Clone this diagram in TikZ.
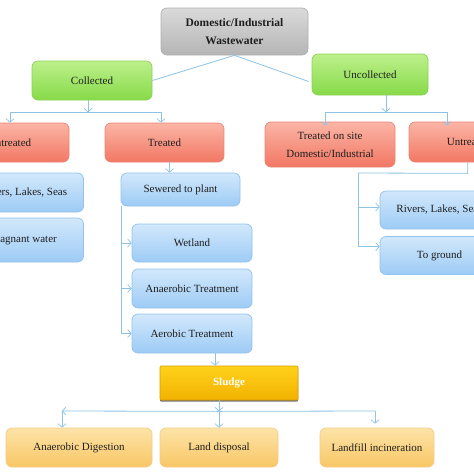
\documentclass[tikz,border=0pt]{standalone}
\usepackage{fontspec}
\setmainfont{Liberation Serif}
\usetikzlibrary{arrows.meta,calc,shadows}
\definecolor{conn}{HTML}{8EC3E6}
\definecolor{txt}{HTML}{1E1E1E}
\definecolor{grayT}{HTML}{DADADA}\definecolor{grayB}{HTML}{B5B5B5}\definecolor{grayD}{HTML}{B0B0B0}
\definecolor{greenT}{HTML}{BDF08C}\definecolor{greenB}{HTML}{86DA48}\definecolor{greenD}{HTML}{8CD255}
\definecolor{redT}{HTML}{FBB5A6}\definecolor{redB}{HTML}{F27763}\definecolor{redD}{HTML}{E98676}
\definecolor{blueT}{HTML}{D2E8FC}\definecolor{blueB}{HTML}{9DCBF5}\definecolor{blueD}{HTML}{93C2EA}
\definecolor{orgT}{HTML}{FDE3A8}\definecolor{orgB}{HTML}{F8C765}\definecolor{orgD}{HTML}{F3CD86}
\definecolor{sluT}{HTML}{FFD21C}\definecolor{sluB}{HTML}{F2B100}\definecolor{sluD}{HTML}{D99E00}
\tikzset{
  box/.style={rounded corners=6pt, line width=0.7pt, align=center, text=txt,
    font=\fontsize{11}{15}\selectfont, inner sep=2pt},
  graybox/.style={box, draw=grayD, top color=grayT, bottom color=grayB},
  greenbox/.style={box, draw=greenD, top color=greenT, bottom color=greenB},
  redbox/.style={box, draw=redD, top color=redT, bottom color=redB},
  bluebox/.style={box, draw=blueD, top color=blueT, bottom color=blueB},
  orgbox/.style={box, draw=orgD, top color=orgT, bottom color=orgB},
  sludgebox/.style={box, rounded corners=1pt, draw=sluD, top color=sluT, bottom color=sluB,
    text=white, font=\fontsize{11}{13}\selectfont\bfseries,
    drop shadow={shadow xshift=0pt, shadow yshift=-1.5pt, fill=black!65, opacity=0.85}},
  conline/.style={draw=conn, line width=0.8pt},
  arr/.style={conline, -{Straight Barb[length=3.5pt, width=8pt, line width=0.7pt]}},
}
\begin{document}
\begin{tikzpicture}[x=1pt,y=-1pt]
\useasboundingbox (0,0) rectangle (474,474);
\clip (0,0) rectangle (474,474);
\fill[white] (0,0) rectangle (474,474);

% top
\node[graybox, minimum width=147, minimum height=47, font=\fontsize{11.5}{18}\selectfont\bfseries] (top) at (234.5,31.5) {Domestic/Industrial\\Wastewater};
\node[greenbox, minimum width=120, minimum height=39] (coll) at (92,80.5) {Collected};
\node[greenbox, minimum width=116, minimum height=41] (uncoll) at (370,74.5) {Uncollected};

% second level
\node[redbox, minimum width=119, minimum height=39] (untL) at (9.5,142.5) {Untreated};
\node[redbox, minimum width=119, minimum height=39] (treated) at (164.5,142.5) {Treated};
\node[redbox, minimum width=130, minimum height=45, font=\fontsize{11}{18}\selectfont] (tos) at (330,144.5) {Treated on site\\Domestic/Industrial};
\node[redbox, minimum width=119, minimum height=40] (untR) at (468.5,142) {Untreated};

% blue
\node[bluebox, minimum width=119, minimum height=39] (rlsL) at (24,192.5) {Rivers, Lakes, Seas};
\node[bluebox, minimum width=119, minimum height=44] (stag) at (24,240) {Stagnant water};
\node[bluebox, minimum width=119, minimum height=33] (sewer) at (180.5,189.5) {Sewered to plant};
\node[bluebox, minimum width=120, minimum height=38] (wet) at (192,243) {Wetland};
\node[bluebox, minimum width=120, minimum height=39] (anaT) at (192,288.5) {Anaerobic Treatment};
\node[bluebox, minimum width=120, minimum height=39] (aerT) at (192,333.5) {Aerobic Treatment};
\node[bluebox, minimum width=119, minimum height=38] (rlsR) at (439.5,210) {Rivers, Lakes, Seas};
\node[bluebox, minimum width=119, minimum height=38] (ground) at (439.5,255.5) {To ground};

% sludge
\node[sludgebox, minimum width=138, minimum height=34] (sludge) at (229,383) {Sludge};
\node[orgbox, minimum width=146, minimum height=39] (anaD) at (79,447.5) {Anaerobic Digestion};
\node[orgbox, minimum width=118, minimum height=39] (land) at (219,447.5) {Land disposal};
\node[orgbox, minimum width=114, minimum height=39] (fill) at (377,447.5) {Landfill incineration};

% connectors top
\draw[conline] (top.south) -- (coll.east);
\draw[conline] (top.south) -- ($(uncoll.west)+(-3,7)$);

% collected
\coordinate (b1) at ($(coll.south)+(-4,12)$);
\draw[arr] ($(coll.south)+(-4,0)$) -- (b1);
\coordinate (b1l) at (10,112);
\coordinate (b1r) at (161,112);
\draw[conline] (b1l) -- (b1r);
\draw[arr] (b1l) -- (b1l |- untL.north);
\draw[arr] (b1r) -- (b1r |- treated.north);

% uncollected
\coordinate (b2) at ($(uncoll.south)+(16,17)$);
\draw[arr] ($(uncoll.south)+(16,0)$) -- (b2);
\coordinate (b2l) at (325,112);
\coordinate (b2r) at (447,112);
\draw[conline] (b2l) -- (b2r);
\draw[arr] (b2l) -- ($(b2l |- tos.north)+(0,4)$);
\draw[arr] (b2r) -- ($(b2r |- untR.north)+(0,4)$);

% treated -> sewer
\coordinate (t1) at ($(treated.south)+(5,0)$);
\draw[arr] (t1) -- (t1 |- sewer.north);

% sewer spine
\coordinate (s0) at ($(sewer.south west)+(1,0)$);
\draw[arr] (s0) |- (wet.west);
\draw[arr] (s0) |- (anaT.west);
\draw[arr] (s0) |- (aerT.west);

% aerobic -> sludge
\coordinate (a1) at ($(aerT.south)+(23,0)$);
\draw[arr] (a1) -- (a1 |- sludge.north);

% sludge -> bottom
\coordinate (sb) at ($(sludge.south)+(-10,11)$);
\draw[arr] ($(sludge.south)+(-10,0)$) -- (sb);
\coordinate (sbl) at (62,411);
\coordinate (sbr) at (375,411);
\draw[arr] (sb) -- (sbl);
\draw[conline] (sb) -- (sbr);
\draw[arr] (sbl) -- (sbl |- anaD.north);
\draw[arr] (sb) -- (sb |- land.north);
\draw[arr] (sbr) -- ($(sbr |- fill.north)+(0,-4)$);

% untreated right
\coordinate (u1) at ($(untR.south west)+(59,0)$);
\coordinate (u2) at ($(u1)+(0,11)$);
\coordinate (u3) at (358,173);
\draw[conline] (u1) -- (u2) -- (u3);
\draw[arr] (u3) |- ($(rlsR.west)+(0,-3)$);
\draw[arr] (u3) |- ($(ground.west)+(0,-9)$);
\end{tikzpicture}
\end{document}
